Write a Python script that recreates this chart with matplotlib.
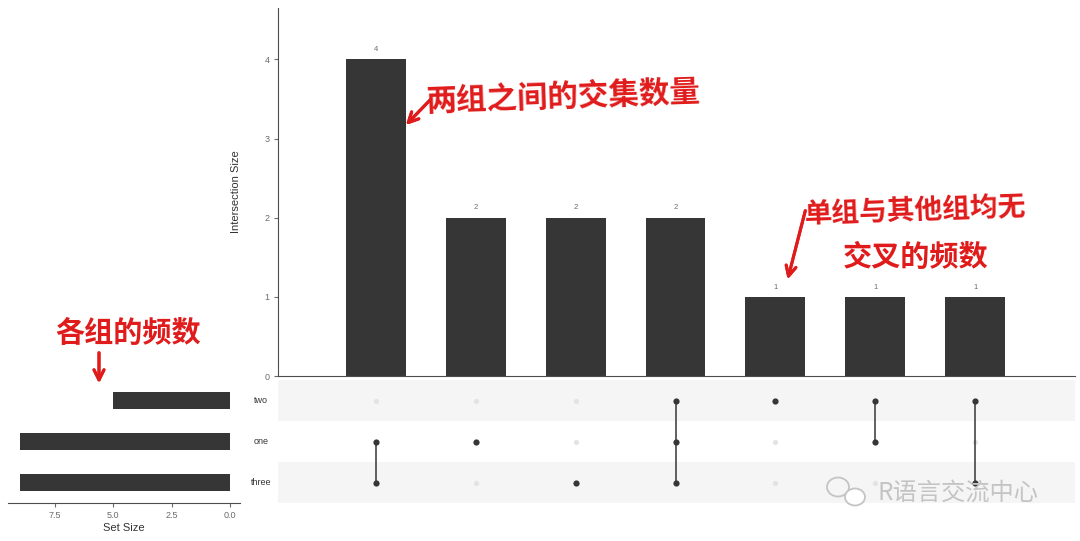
import matplotlib.pyplot as plt
from matplotlib.patches import Ellipse
import numpy as np

plt.rcParams['font.family'] = ['Liberation Sans', 'DejaVu Sans']

# 数据
sets = ['three', 'one', 'two']          # 从下到上
set_sizes = [9, 9, 5]
inter_sizes = [4, 2, 2, 2, 1, 1, 1]
# 每个交集包含的组
inter_members = [
    ['one', 'three'],
    ['one'],
    ['three'],
    ['two', 'one', 'three'],
    ['two'],
    ['two', 'one'],
    ['two', 'three'],
]

W, H = 1080, 541
fig = plt.figure(figsize=(W / 100, H / 100), dpi=100)


def px_axes(left, top, right, bottom):
    return fig.add_axes([left / W, 1 - bottom / H, (right - left) / W, (bottom - top) / H])


bar_col = '#363636'
axis_col = '#4d4d4d'
tick_col = '#6b6b6b'
n = len(inter_sizes)
xs = np.arange(n)
xlim = (-0.98, 7.0)

# 交集柱状图
ax = px_axes(278, 8, 1075, 376)
bars = ax.bar(xs, inter_sizes, width=0.6, color=bar_col)
for b, v in zip(bars, inter_sizes):
    ax.text(b.get_x() + b.get_width() / 2, v + 0.08, str(v), ha='center', va='bottom',
            fontsize=5.5, color=tick_col)
ax.set_xlim(*xlim)
ax.set_ylim(0, 4.65)
ax.set_yticks([0, 1, 2, 3, 4])
ax.set_xticks([])
for s in ['top', 'right']:
    ax.spines[s].set_visible(False)
ax.spines['left'].set_color(axis_col)
ax.spines['bottom'].set_color(axis_col)
ax.tick_params(axis='y', labelsize=6.5, colors=tick_col, length=3, pad=3)
ax.set_ylabel('Intersection Size', fontsize=8, color='#333333', labelpad=17)

# 矩阵
mx = px_axes(278, 380, 1075, 503)
mx.set_xlim(*xlim)
mx.set_ylim(-0.5, len(sets) - 0.5)
for i, s in enumerate(sets):
    if i % 2 == 0:
        mx.axhspan(i - 0.5, i + 0.5, color='#f5f5f5', zorder=0, lw=0)
for j, mem in enumerate(inter_members):
    active = [i for i, s in enumerate(sets) if s in mem]
    inactive = [i for i, s in enumerate(sets) if s not in mem]
    mx.scatter([j] * len(inactive), inactive, s=14, color='#e3e3e3', zorder=2, lw=0)
    if len(active) > 1:
        mx.plot([j, j], [min(active), max(active)], color=bar_col, lw=1.1, zorder=3)
    mx.scatter([j] * len(active), active, s=20, color=bar_col, zorder=4, lw=0)
mx.set_xticks([])
mx.set_yticks([])
for s in mx.spines.values():
    s.set_visible(False)

# 集合大小
sx = px_axes(8, 380, 240, 503)
sx.barh(np.arange(len(sets)), set_sizes, height=0.42, color=bar_col)
sx.set_xlim(9.51, -0.43)
sx.set_ylim(-0.5, len(sets) - 0.5)
sx.set_xticks([7.5, 5.0, 2.5, 0.0])
sx.set_xticklabels(['7.5', '5.0', '2.5', '0.0'])
sx.set_yticks([])
for s in ['top', 'right', 'left']:
    sx.spines[s].set_visible(False)
sx.spines['bottom'].set_color(axis_col)
sx.tick_params(axis='x', labelsize=6.5, colors=tick_col, length=3, pad=3)
sx.set_xlabel('Set Size', fontsize=8, color='#333333', labelpad=2)
for i, s in enumerate(sets):
    sx.text(1.09, i, s, transform=sx.get_yaxis_transform(), ha='center', va='center',
            fontsize=6.5, color='#333333')

# 手写批注
red = '#e01b1b'
cjk = ['Noto Sans CJK SC', 'DejaVu Sans']


def ftxt(x, y, s, size, **kw):
    fig.text(x / W, 1 - y / H, s, fontsize=size, color=red, family=cjk,
             fontweight='bold', **kw)


def farrow(x0, y0, x1, y1):
    fig.add_artist(plt.annotate('', xy=(x1 / W, 1 - y1 / H), xytext=(x0 / W, 1 - y0 / H),
                                xycoords='figure fraction', textcoords='figure fraction',
                                arrowprops=dict(arrowstyle='->', color=red, lw=2.2,
                                                mutation_scale=18)))


ftxt(425, 97, '两组之间的交集数量', 22, va='center', ha='left', rotation=2)
farrow(432, 98, 404, 127)
ftxt(915, 212, '单组与其他组均无', 20, va='center', ha='center', rotation=2)
ftxt(915, 257, '交叉的频数', 21, va='center', ha='center')
farrow(806, 208, 787, 282)
ftxt(128, 333, '各组的频数', 21, va='center', ha='center')
farrow(99, 350, 99, 386)

# 水印
wm = '#c4c4c4'
fig.text(958 / W, 1 - 493 / H, 'R语言交流中心', fontsize=17.5, color=wm, family=cjk,
         ha='center', va='center')
fig.add_artist(Ellipse((838 / W, 1 - 487 / H), 22 / W, 19 / H, fill=False, ec=wm, lw=1.3,
                       transform=fig.transFigure))
fig.add_artist(Ellipse((855 / W, 1 - 497 / H), 20 / W, 17 / H, fc='white', ec=wm, lw=1.3,
                       transform=fig.transFigure))

fig.savefig('out.png', dpi=100)
